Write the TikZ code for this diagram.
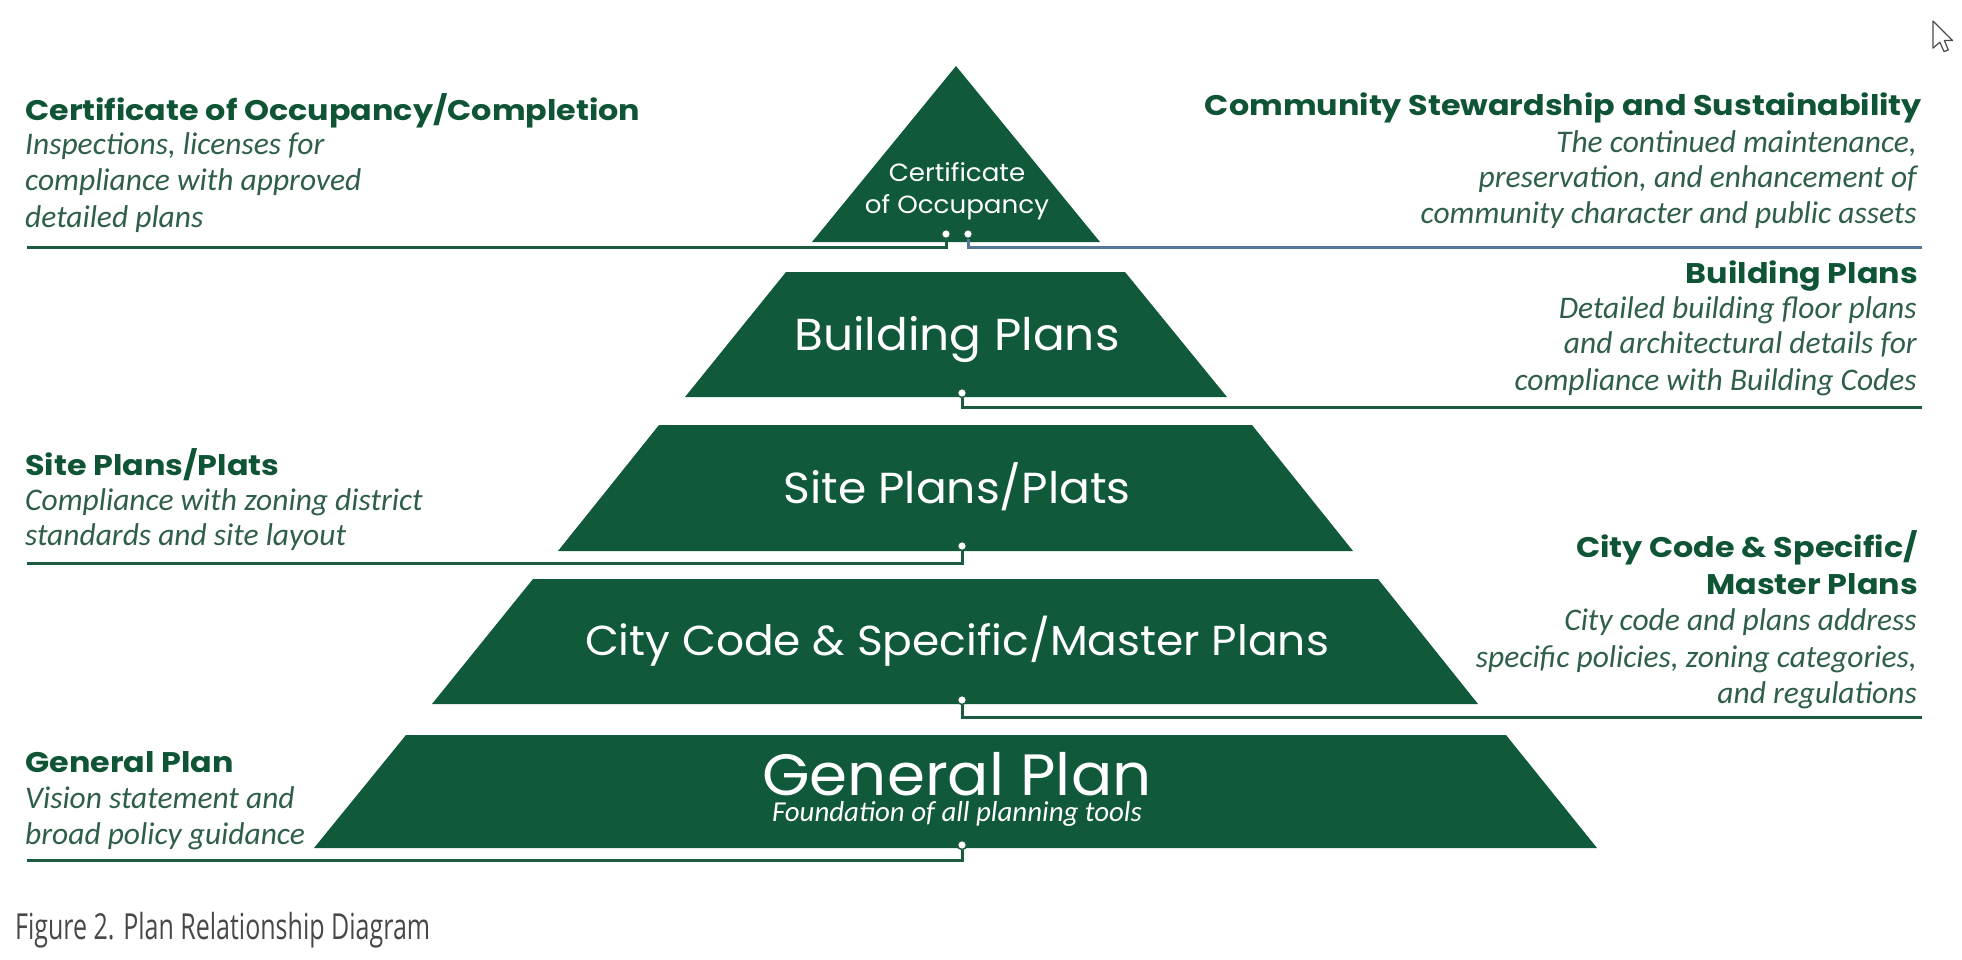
\documentclass[tikz,border=0pt]{standalone}
\usepackage{fontspec}
\usepackage{graphicx}
\setmainfont{Poppins}
\newfontfamily\pyrfont[FakeStretch=1.05]{Poppins}
\newfontfamily\headfont[FakeStretch=1.12]{Poppins}
\newfontfamily\descfont{Carlito}
\newfontfamily\capfont{Open Sans}
\definecolor{pgreen}{HTML}{10593A}
\definecolor{hgreen}{HTML}{0F5535}
\definecolor{tgreen}{HTML}{2F5F48}
\definecolor{lgreen}{HTML}{1C5C3E}
\definecolor{lblue}{HTML}{557898}
\definecolor{capgray}{HTML}{484848}
\begin{document}
\begin{tikzpicture}[x=1bp,y=-1bp,
  tier/.style={fill=pgreen},
  conn/.style={draw=lgreen, line width=3bp},
  connb/.style={draw=lblue, line width=3bp},
  dot/.style={circle, draw=lgreen, fill=white, line width=1.5bp, minimum size=9bp, inner sep=0},
  head/.style={font=\headfont\bfseries\fontsize{28.5}{30}\selectfont, text=hgreen, inner sep=0},
  desc/.style={font=\descfont\itshape\fontsize{31.6}{34}\selectfont, text=tgreen, inner sep=0},
  lbl/.style={text=white, inner sep=0, anchor=base},
]
\useasboundingbox (0,0) rectangle (1962,960);

% pyramid tiers
\fill[tier] (956,66) -- (1100,242) -- (812,242) -- cycle;
\fill[tier] (786,272) -- (1125,272) -- (1227,397) -- (685,397) -- cycle;
\fill[tier] (659,425) -- (1252,425) -- (1353,551) -- (558,551) -- cycle;
\fill[tier] (533,579) -- (1378,579) -- (1478,704) -- (432,704) -- cycle;
\fill[tier] (406,735) -- (1506,735) -- (1597,848) -- (314,848) -- cycle;

% tier labels
\node[lbl, font=\pyrfont\fontsize{25}{30}\selectfont] (l0a) at (957,181) {Certificate};
\node[lbl, font=\pyrfont\fontsize{25}{30}\selectfont] (l0b) at (957,213) {of Occupancy};
\node[lbl, font=\pyrfont\fontsize{45}{50}\selectfont] (l1) at (957,350) {Building Plans};
\node[lbl, font=\pyrfont\fontsize{43.6}{50}\selectfont] (l2) at (957,503) {Site Plans/Plats};
\node[lbl, font=\pyrfont\fontsize{42}{50}\selectfont] (l3) at (957,655) {City Code \& Specific/Master Plans};
\node[lbl, font=\pyrfont\fontsize{58.5}{60}\selectfont, text depth=0pt] (l4) at (957,795) {General Plan};
\node[lbl, font=\descfont\itshape\fontsize{29}{30}\selectfont, text height=18bp] (l4b) at (957,821) {Foundation of all planning tools};

% connector end points
\coordinate (e0a) at (27,247);
\coordinate (e0b) at (1922,247);
\coordinate (e1) at (1922,407);
\coordinate (e2) at (27,563);
\coordinate (e3) at (1922,717);
\coordinate (e4) at (27,860);

% dots
\node[dot] (d0a) at (946,234) {};
\node[dot] (d0b) at (968,234) {};
\node[dot] (d1) at (962,393) {};
\node[dot] (d2) at (962,546) {};
\node[dot] (d3) at (962,700) {};
\node[dot] (d4) at (962,845) {};

% connectors
\draw[conn] (d0a.south) |- (e0a);
\draw[connb] (d0b.south) |- (e0b);
\draw[conn] (d1.south) |- (e1);
\draw[conn] (d2.south) |- (e2);
\draw[conn] (d3.south) |- (e3);
\draw[conn] (d4.south) |- (e4);

% left texts
\node[head, anchor=base west] (h0) at (25,120) {Certificate of Occupancy/Completion};
\node[desc, anchor=base west] (t0a) at (25,154) {Inspections, licenses for};
\node[desc, anchor=base west] (t0b) at (25,190) {compliance with approved};
\node[desc, anchor=base west] (t0c) at (25,227) {detailed plans};

\node[head, anchor=base west] (h2) at (25,475) {Site Plans/Plats};
\node[desc, anchor=base west] (t2a) at (25,510) {Compliance with zoning district};
\node[desc, anchor=base west] (t2b) at (25,545) {standards and site layout};

\node[head, anchor=base west] (h4) at (25,772) {General Plan};
\node[desc, anchor=base west] (t4a) at (25,808) {Vision statement and};
\node[desc, anchor=base west] (t4b) at (25,844) {broad policy guidance};

% right texts
\node[head, anchor=base east] (h5) at (1922,115) {Community Stewardship and Sustainability};
\node[desc, anchor=base east] (t5a) at (1917,152) {The continued maintenance,};
\node[desc, anchor=base east] (t5b) at (1917,187) {preservation, and enhancement of};
\node[desc, anchor=base east] (t5c) at (1917,223) {community character and public assets};

\node[head, anchor=base east] (h1) at (1918,283) {Building Plans};
\node[desc, anchor=base east] (t1a) at (1917,318) {Detailed building floor plans};
\node[desc, anchor=base east] (t1b) at (1917,353) {and architectural details for};
\node[desc, anchor=base east] (t1c) at (1917,390) {compliance with Building Codes};

\node[head, anchor=base east] (h3a) at (1918,557) {City Code \& Specific/};
\node[head, anchor=base east] (h3b) at (1918,594) {Master Plans};
\node[desc, anchor=base east] (t3a) at (1917,630) {City code and plans address};
\node[desc, anchor=base east] (t3b) at (1917,667) {specific policies, zoning categories,};
\node[desc, anchor=base east] (t3c) at (1917,703) {and regulations};

% caption
\node[anchor=base west, inner sep=0, text=capgray] (cap) at (15,939)
  {\resizebox{415bp}{\height}{\capfont\fontsize{36}{38}\selectfont Figure 2. Plan Relationship Diagram}};

% mouse cursor
\draw[black!70, line width=1.2bp, fill=white, line join=round, shift={(1933,21)}, scale=1.7]
  (0,0) -- (0,16) -- (4,12.5) -- (6.5,18) -- (9,17) -- (6.7,11.5) -- (11.5,11.5) -- cycle;
\end{tikzpicture}
\end{document}
